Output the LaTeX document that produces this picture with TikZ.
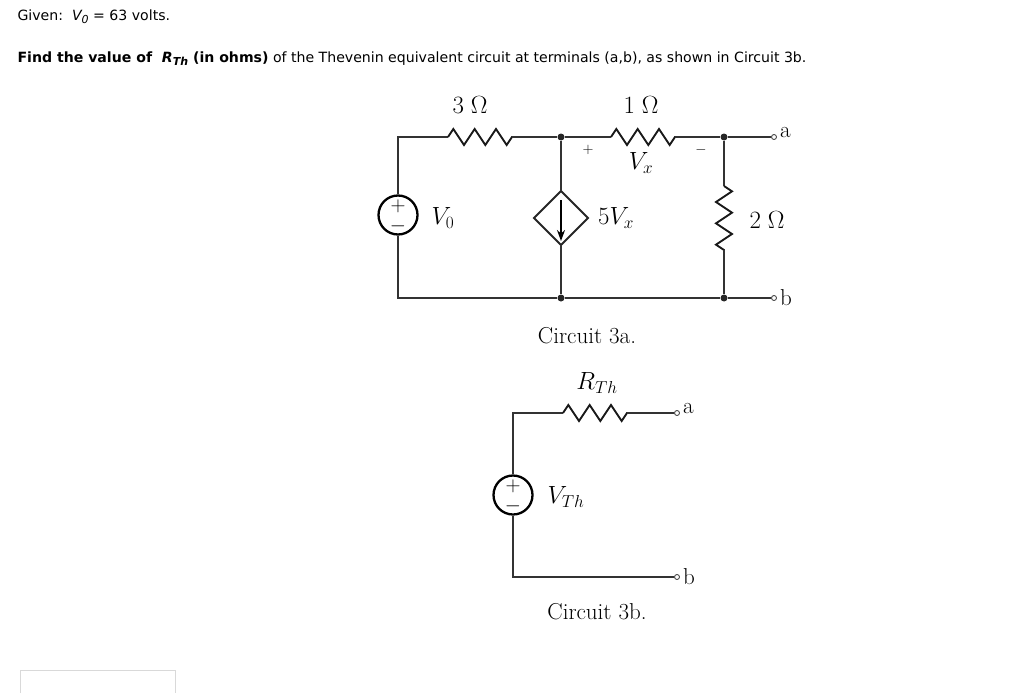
\documentclass[tikz,border=0pt]{standalone}
\usepackage{fontspec}
\newfontfamily\uifont{DejaVu Sans}
\usetikzlibrary{decorations.pathmorphing,arrows.meta}
\tikzset{
 wire/.style={line width=1.4pt,black!80},
 res/.style={line width=1.9pt,black!90,decorate,decoration={zigzag,amplitude=8,segment length=21.33,pre length=0,post length=0}},
 dot/.style={circle,fill=black!85,inner sep=0,minimum size=7},
 term/.style={circle,draw=black!80,line width=0.8pt,fill=white,inner sep=0,minimum size=5},
 src/.style={circle,draw,line width=2.3pt,minimum size=39,inner sep=0},
 lab/.style={font=\fontsize{23}{25}\selectfont},
 sgn/.style={font=\fontsize{21}{21}\selectfont,inner sep=0},
 ui/.style={font=\uifont\fontsize{14.1}{17}\selectfont,anchor=west}
}
\newcommand{\subui}[1]{\raisebox{-3pt}{\fontsize{11}{12}\selectfont #1}}
\begin{document}
\begin{tikzpicture}[x=1pt,y=-1pt]
\useasboundingbox (0,0) rectangle (1024,693);
\fill[white] (0,0) rectangle (1024,693);
\node[ui] at (14,17) {Given:\ \ \textit{V\subui{0}} = 63 volts.};
\node[ui] at (14,59) {\textbf{Find the value of \ \textit{R\subui{Th}} (in ohms)} of the Thevenin equivalent circuit at terminals (a,b), as shown in Circuit 3b.};
\draw[black!15] (20,693) -- (20,670) -- (175,670) -- (175,693);
% Circuit 3a
\coordinate (tl) at (398,137); \coordinate (bl) at (398,298);
\node[dot] (m) at (561,137) {}; \node[dot] (mb) at (561,298) {};
\node[dot] (r) at (724,137) {}; \node[dot] (rb) at (724,298) {};
\node[term] (a) at (774,137) {}; \node[term] (b) at (774,298) {};
\node[src] (s) at (398,215) {};
\node[sgn] (sp) at (398,206) {$+$};
\node[sgn] (sm) at (398,226) {$-$};
\coordinate (r3a) at (448,137); \coordinate (r3b) at (512,137);
\coordinate (r1a) at (611,137); \coordinate (r1b) at (675,137);
\coordinate (r2a) at (724,186); \coordinate (r2b) at (724,250);
\coordinate (dt) at (561,191); \coordinate (db) at (561,245);
\draw[line width=1.8pt,black!85] (dt) -- (588,218) -- (db) -- (534,218) -- cycle;
\draw[line width=1.5pt,-{Stealth[length=11,width=8]}] (561,200) -- (561,241);
\draw[wire] (s.north) -- (tl) -- (r3a);
\draw[res] (r3a) -- (r3b);
\draw[wire] (r3b) -- (m) -- (r1a);
\draw[res] (r1a) -- (r1b);
\draw[wire] (r1b) -- (r) -- (a);
\draw[wire] (r) -- (r2a);
\draw[res] (r2a) -- (r2b);
\draw[wire] (r2b) -- (rb);
\draw[wire] (s.south) -- (bl) -- (mb) -- (rb) -- (b);
\draw[wire] (m) -- (dt);
\draw[wire] (db) -- (mb);
\node[lab] at (470,105) {$3\ \Omega$};
\node[lab] at (641,105) {$1\ \Omega$};
\node[sgn,font=\fontsize{15}{15}\selectfont] at (588,150) {$+$};
\node[sgn,font=\fontsize{15}{15}\selectfont] at (701,150) {$-$};
\node[lab] at (641,163) {$V_x$};
\node[lab] at (443,218) {$V_0$};
\node[lab] at (616,218) {$5V_x$};
\node[lab] at (767,220) {$2\ \Omega$};
\node[lab,anchor=west,inner sep=1] at (779,133) {a};
\node[lab,anchor=west,inner sep=1] at (779,298) {b};
\node[lab] at (587,336) {Circuit 3a.};
% Circuit 3b
\coordinate (tl2) at (513,413); \coordinate (bl2) at (513,577);
\node[term] (a2) at (677,413) {}; \node[term] (b2) at (677,577) {};
\node[src] (s2) at (513,495) {};
\node[sgn] at (513,486) {$+$};
\node[sgn] at (513,506) {$-$};
\coordinate (rta) at (563,413); \coordinate (rtb) at (627,413);
\draw[wire] (s2.north) -- (tl2) -- (rta);
\draw[res] (rta) -- (rtb);
\draw[wire] (rtb) -- (a2);
\draw[wire] (s2.south) -- (bl2) -- (b2);
\node[lab] at (597,383) {$R_{Th}$};
\node[lab] at (566,497) {$V_{Th}$};
\node[lab,anchor=west,inner sep=1] at (682,409) {a};
\node[lab,anchor=west,inner sep=1] at (682,577) {b};
\node[lab] at (597,612) {Circuit 3b.};
\end{tikzpicture}
\end{document}
